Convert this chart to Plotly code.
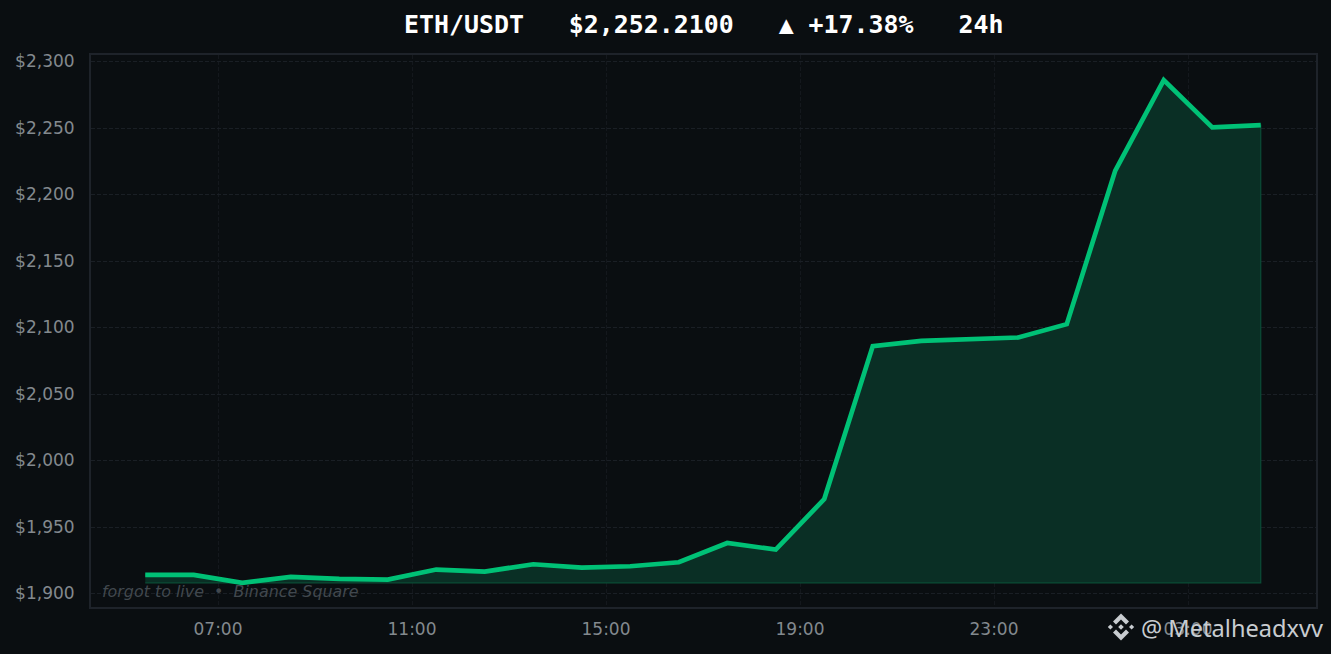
import plotly.graph_objects as go

bg = "#0a0e11"
verde = "#00c176"
preenchimento = "#0a2f25"
borda_fill = "#0b4d37"
grade = "#1a1f25"
borda = "#1e232a"
texto_eixo = "#83898e"

# precos, um por hora
horas = [
    "2024-01-01 05:30", "2024-01-01 06:30", "2024-01-01 07:30", "2024-01-01 08:30",
    "2024-01-01 09:30", "2024-01-01 10:30", "2024-01-01 11:30", "2024-01-01 12:30",
    "2024-01-01 13:30", "2024-01-01 14:30", "2024-01-01 15:30", "2024-01-01 16:30",
    "2024-01-01 17:30", "2024-01-01 18:30", "2024-01-01 19:30", "2024-01-01 20:30",
    "2024-01-01 21:30", "2024-01-01 22:30", "2024-01-01 23:30", "2024-01-02 00:30",
    "2024-01-02 01:30", "2024-01-02 02:30", "2024-01-02 03:30", "2024-01-02 04:30",
]
precos = [
    1914, 1914, 1908, 1912.5, 1911, 1910.5, 1918, 1916.5,
    1922, 1919.5, 1920.5, 1923.5, 1938, 1933, 1971, 2086,
    2090, 2091.5, 2092.5, 2102.5, 2218, 2286, 2250.5, 2252.21,
]
ticks_x = [
    "2024-01-01 07:00", "2024-01-01 11:00", "2024-01-01 15:00",
    "2024-01-01 19:00", "2024-01-01 23:00", "2024-01-02 03:00",
]
labels_x = ["07:00", "11:00", "15:00", "19:00", "23:00", "03:00"]
ticks_y = [1900, 1950, 2000, 2050, 2100, 2150, 2200, 2250, 2300]
labels_y = ["$1,900", "$1,950", "$2,000", "$2,050", "$2,100", "$2,150", "$2,200", "$2,250", "$2,300"]

W, H = 1331, 654
L, R, T, B = 91, 1316, 55, 607


def px(x):
    return (x - L) / (R - L)


def py(y):
    return (B - y) / (B - T)


fig = go.Figure()

# area fechada ate o menor preco
fig.add_trace(go.Scatter(
    x=horas + [horas[-1], horas[0]],
    y=precos + [min(precos), min(precos)],
    mode="lines",
    fill="toself",
    fillcolor=preenchimento,
    line=dict(color=borda_fill, width=1.2),
    hoverinfo="skip",
))
fig.add_trace(go.Scatter(
    x=horas,
    y=precos,
    mode="lines",
    line=dict(color=verde, width=4.7),
))

# logo da binance
cor_marca = "#c8ccd0"


def losango(cx, cy, r):
    return f"M {px(cx - r)} {py(cy)} L {px(cx)} {py(cy - r)} L {px(cx + r)} {py(cy)} L {px(cx)} {py(cy + r)} Z"


cx, cy = 1121, 627
logo = [losango(cx, cy, 2.8), losango(cx - 10.6, cy, 2.6), losango(cx + 10.6, cy, 2.6)]
for s in (-1, 1):
    pts = [
        (cx, cy + s * 13.5),
        (cx - 8, cy + s * 5.5),
        (cx - 5, cy + s * 2.5),
        (cx, cy + s * 7.5),
        (cx + 5, cy + s * 2.5),
        (cx + 8, cy + s * 5.5),
    ]
    logo.append("M " + " L ".join(f"{px(a)} {py(b)}" for a, b in pts) + " Z")

fig.update_layout(
    width=W,
    height=H,
    autosize=False,
    margin=dict(l=L, r=W - R, t=T, b=H - B, pad=0),
    paper_bgcolor=bg,
    plot_bgcolor=bg,
    showlegend=False,
    font=dict(family="DejaVu Sans", color=texto_eixo, size=17),
    shapes=[
        dict(type="path", path=p, xref="paper", yref="paper",
             fillcolor=cor_marca, line=dict(width=0), layer="above")
        for p in logo
    ],
    annotations=[
        dict(text="<b>ETH/USDT   $2,252.2100   ▲ +17.38%   24h</b>", xref="paper", yref="paper",
             x=px(703), y=py(25), xanchor="center", yanchor="middle", showarrow=False,
             font=dict(family="DejaVu Sans Mono", size=24.9, color="#ffffff")),
        dict(text="<i>forgot to live  •  Binance Square</i>", xref="paper", yref="paper",
             x=px(100), y=py(591), xanchor="left", yanchor="middle", showarrow=False,
             font=dict(family="DejaVu Sans", size=15.9, color="#41484e")),
        dict(text="@ Metalheadxvv", xref="paper", yref="paper",
             x=px(1325), y=py(628), xanchor="right", yanchor="middle", showarrow=False,
             font=dict(family="Noto Sans", size=23.6, color=cor_marca)),
    ],
)
fig.update_xaxes(
    type="date",
    range=["2024-01-01 04:22:53", "2024-01-02 05:38:20"],
    tickmode="array",
    tickvals=ticks_x,
    ticktext=labels_x,
    ticks="",
    ticklabelstandoff=6,
    showgrid=True,
    gridcolor="#14181d",
    griddash="4px,2px",
    gridwidth=1,
    showline=True,
    linecolor=borda,
    linewidth=2,
    mirror=True,
    zeroline=False,
    tickfont=dict(size=17, color=texto_eixo),
)
fig.update_yaxes(
    range=[1889.85, 2304.9],
    tickmode="array",
    tickvals=ticks_y,
    ticktext=labels_y,
    ticks="",
    ticklabelstandoff=11,
    showgrid=True,
    gridcolor=grade,
    griddash="4px,2px",
    gridwidth=1,
    showline=True,
    linecolor=borda,
    linewidth=2,
    mirror=True,
    zeroline=False,
    tickfont=dict(size=17, color=texto_eixo),
)

fig.write_html(
    "out.html",
    config={"displayModeBar": False},
    post_script="document.body.style.margin='0';document.body.style.background='%s';" % bg,
)
